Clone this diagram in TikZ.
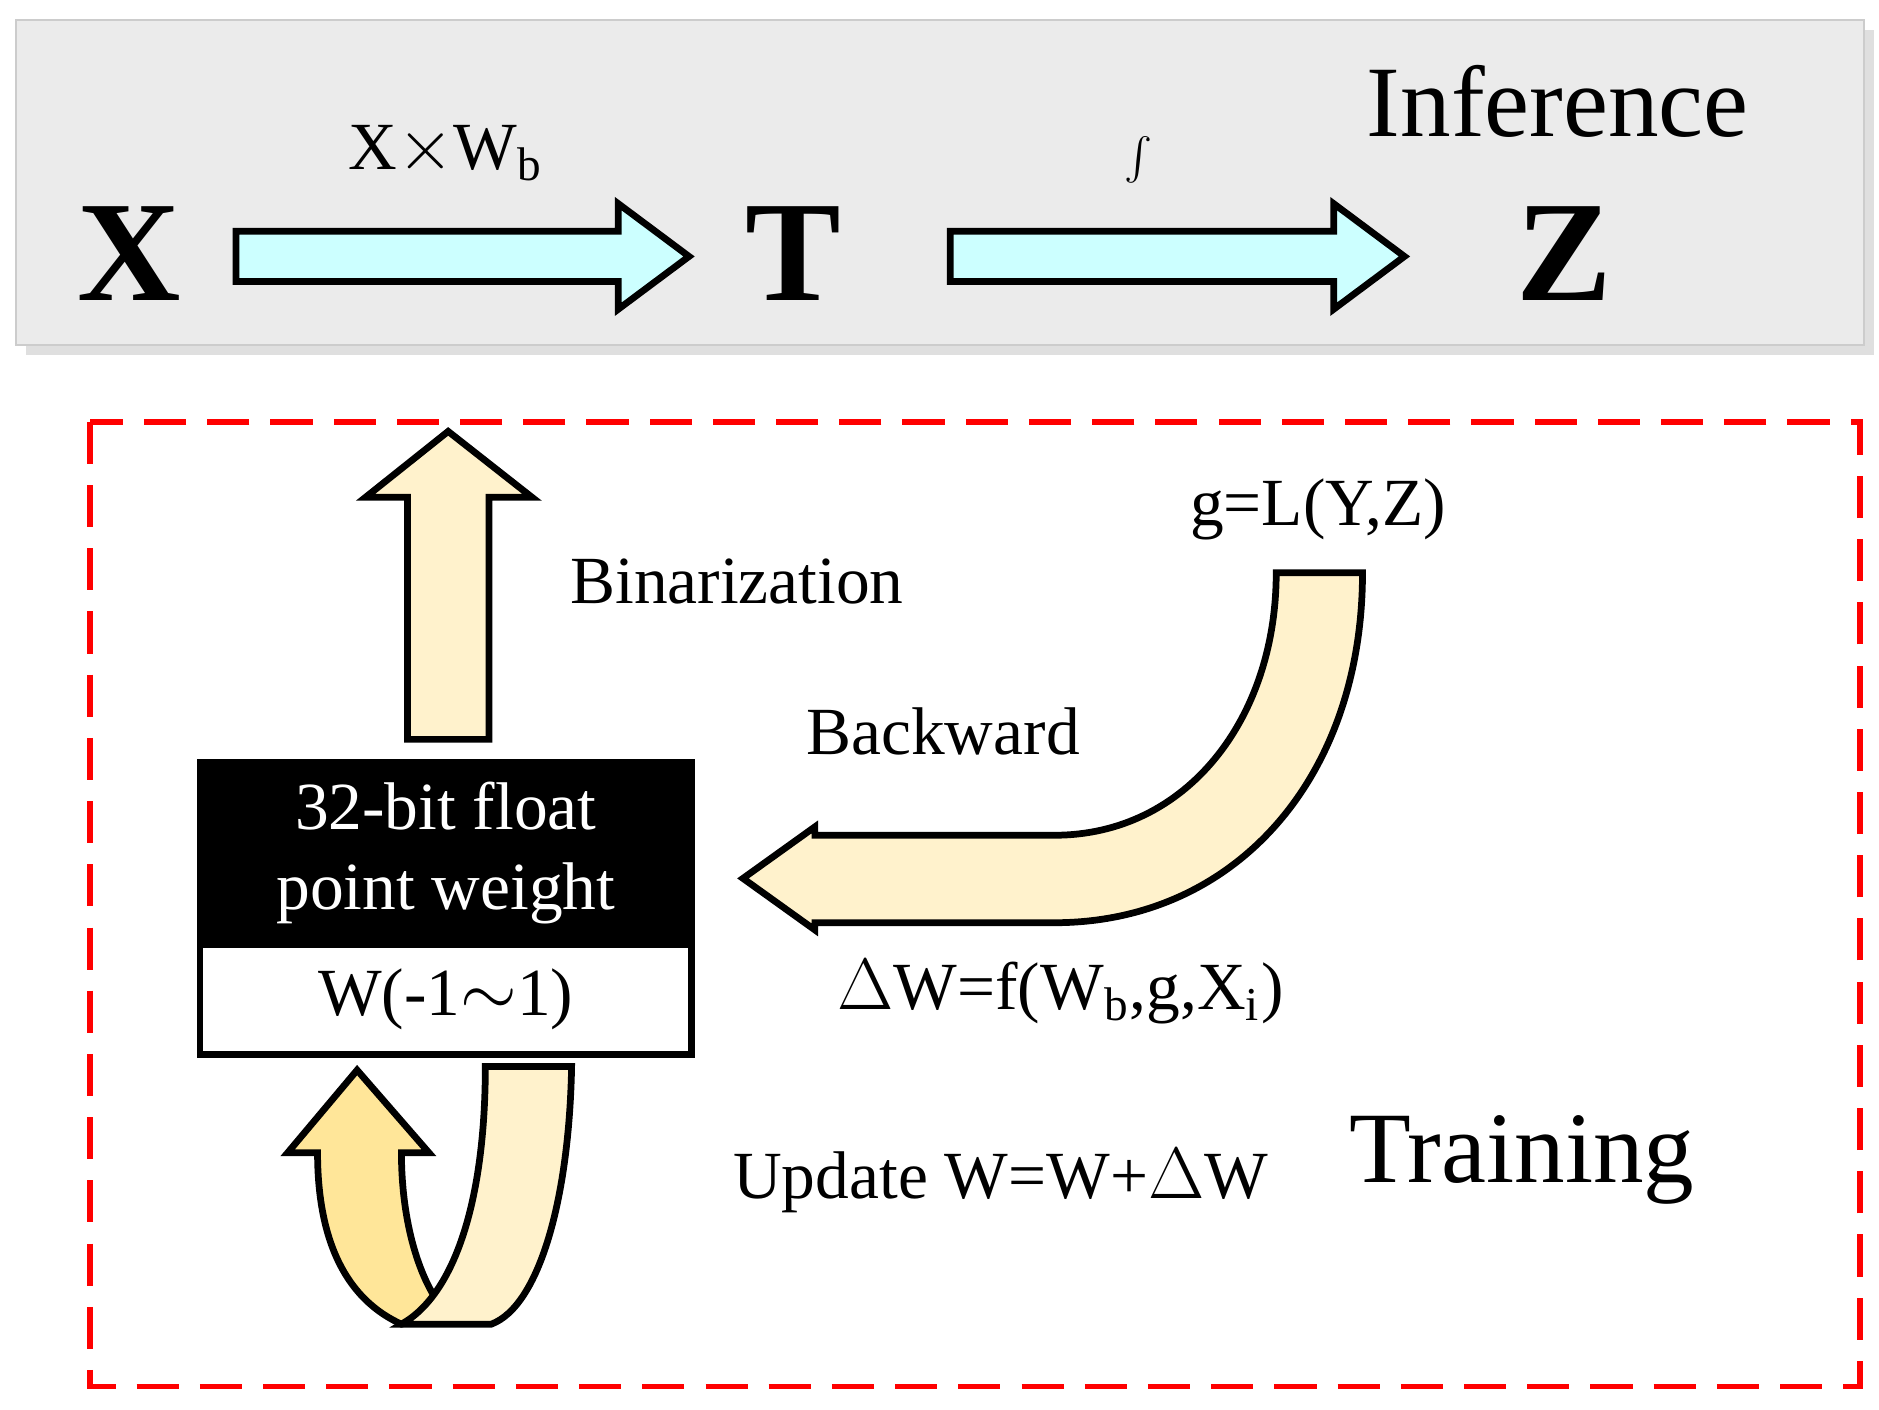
\documentclass[tikz,border=0pt]{standalone}
\usepackage{fontspec}
\setmainfont{Liberation Serif}
\usetikzlibrary{shadows}
\definecolor{panelgray}{RGB}{235,235,235}
\definecolor{cyanfill}{RGB}{204,255,255}
\definecolor{creamfill}{RGB}{255,242,204}
\definecolor{goldfill}{RGB}{255,230,153}
\tikzset{
  blk/.style={draw=black, line width=1.6pt, line join=miter},
  big/.style={font=\fontsize{34}{36}\selectfont\bfseries},
  lbl/.style={font=\fontsize{16}{19}\selectfont},
  huge/.style={font=\fontsize{24}{28}\selectfont},
}
\begin{document}
\begin{tikzpicture}[x=0.01cm,y=-0.01cm]
\useasboundingbox (0,0) rectangle (1568,1176);
% inference panel
\node[draw=gray!40, fill=panelgray, drop shadow={opacity=0.25}, minimum width=15.41cm, minimum height=2.71cm, inner sep=0] (panel) at (784.5,152.5) {};
\node[big] (x) at (108,212) {X};
\node[big] (t) at (662,212) {T};
\node[big] (z) at (1305,212) {Z};
\node[huge] (inf) at (1300,85) {Inference};
\draw[blk, fill=cyanfill] (197,193) -- (516,193) -- (516,170) -- (575,214) -- (516,258) -- (516,235) -- (197,235) -- cycle;
\draw[blk, fill=cyanfill] (793,193) -- (1113,193) -- (1113,170) -- (1172,214) -- (1113,258) -- (1113,235) -- (793,235) -- cycle;
\node[lbl] (mul) at (372,128) {X$\times$W\textsubscript{b}};
\node[font=\fontsize{24}{28}\selectfont] (int) at (950,135) {$\int$};
% training panel
\draw[red, line width=1.4pt, dash pattern=on 10pt off 5pt] (75,352) rectangle (1552,1157);
% binarization arrow
\draw[blk, fill=creamfill] (340,617) -- (340,415) -- (305,415) -- (374,360) -- (444,415) -- (408,415) -- (408,617) -- cycle;
\node[lbl] (bin) at (615,485) {Binarization};
\node[lbl] (loss) at (1100,425) {g=L(Y,Z)};
% backward curved arrow
\draw[blk, fill=creamfill] (1137,478) .. controls (1137,650) and (1030,770) .. (880,770)
  -- (680,770) -- (680,776) -- (620,733) -- (680,690) -- (680,697) -- (880,697)
  .. controls (990,697) and (1065,600) .. (1065,478) -- cycle;
\node[lbl] (bwd) at (787,610) {Backward};
% weight box
\node[fill=black, text=white, lbl, align=center, minimum width=4.1cm, minimum height=1.52cm, inner sep=0, line width=1.6pt, draw=black] (fw) at (372,712) {32-bit float\\point weight};
\node[blk, fill=white, lbl, minimum width=4.1cm, minimum height=0.92cm, inner sep=0] (w) at (372,834) {W(-1$\sim$1)};
\node[lbl] (dw) at (885,828) {$\Delta$W=f(W\textsubscript{b},g,X\textsubscript{i})};
% update loop arrow
\draw[blk, fill=goldfill] (335,1105) .. controls (280,1080) and (265,1020) .. (265,962)
  -- (240,962) -- (298,893) -- (358,962) -- (335,962)
  .. controls (335,1020) and (350,1070) .. (372,1095) -- cycle;
\draw[blk, fill=creamfill] (405,890) -- (477,890) .. controls (475,1000) and (450,1090) .. (410,1105)
  -- (335,1105) .. controls (380,1080) and (405,1000) .. cycle;
\node[lbl] (upd) at (835,985) {Update W=W+$\Delta$W};
\node[huge] (train) at (1270,968) {Training};
\end{tikzpicture}
\end{document}
